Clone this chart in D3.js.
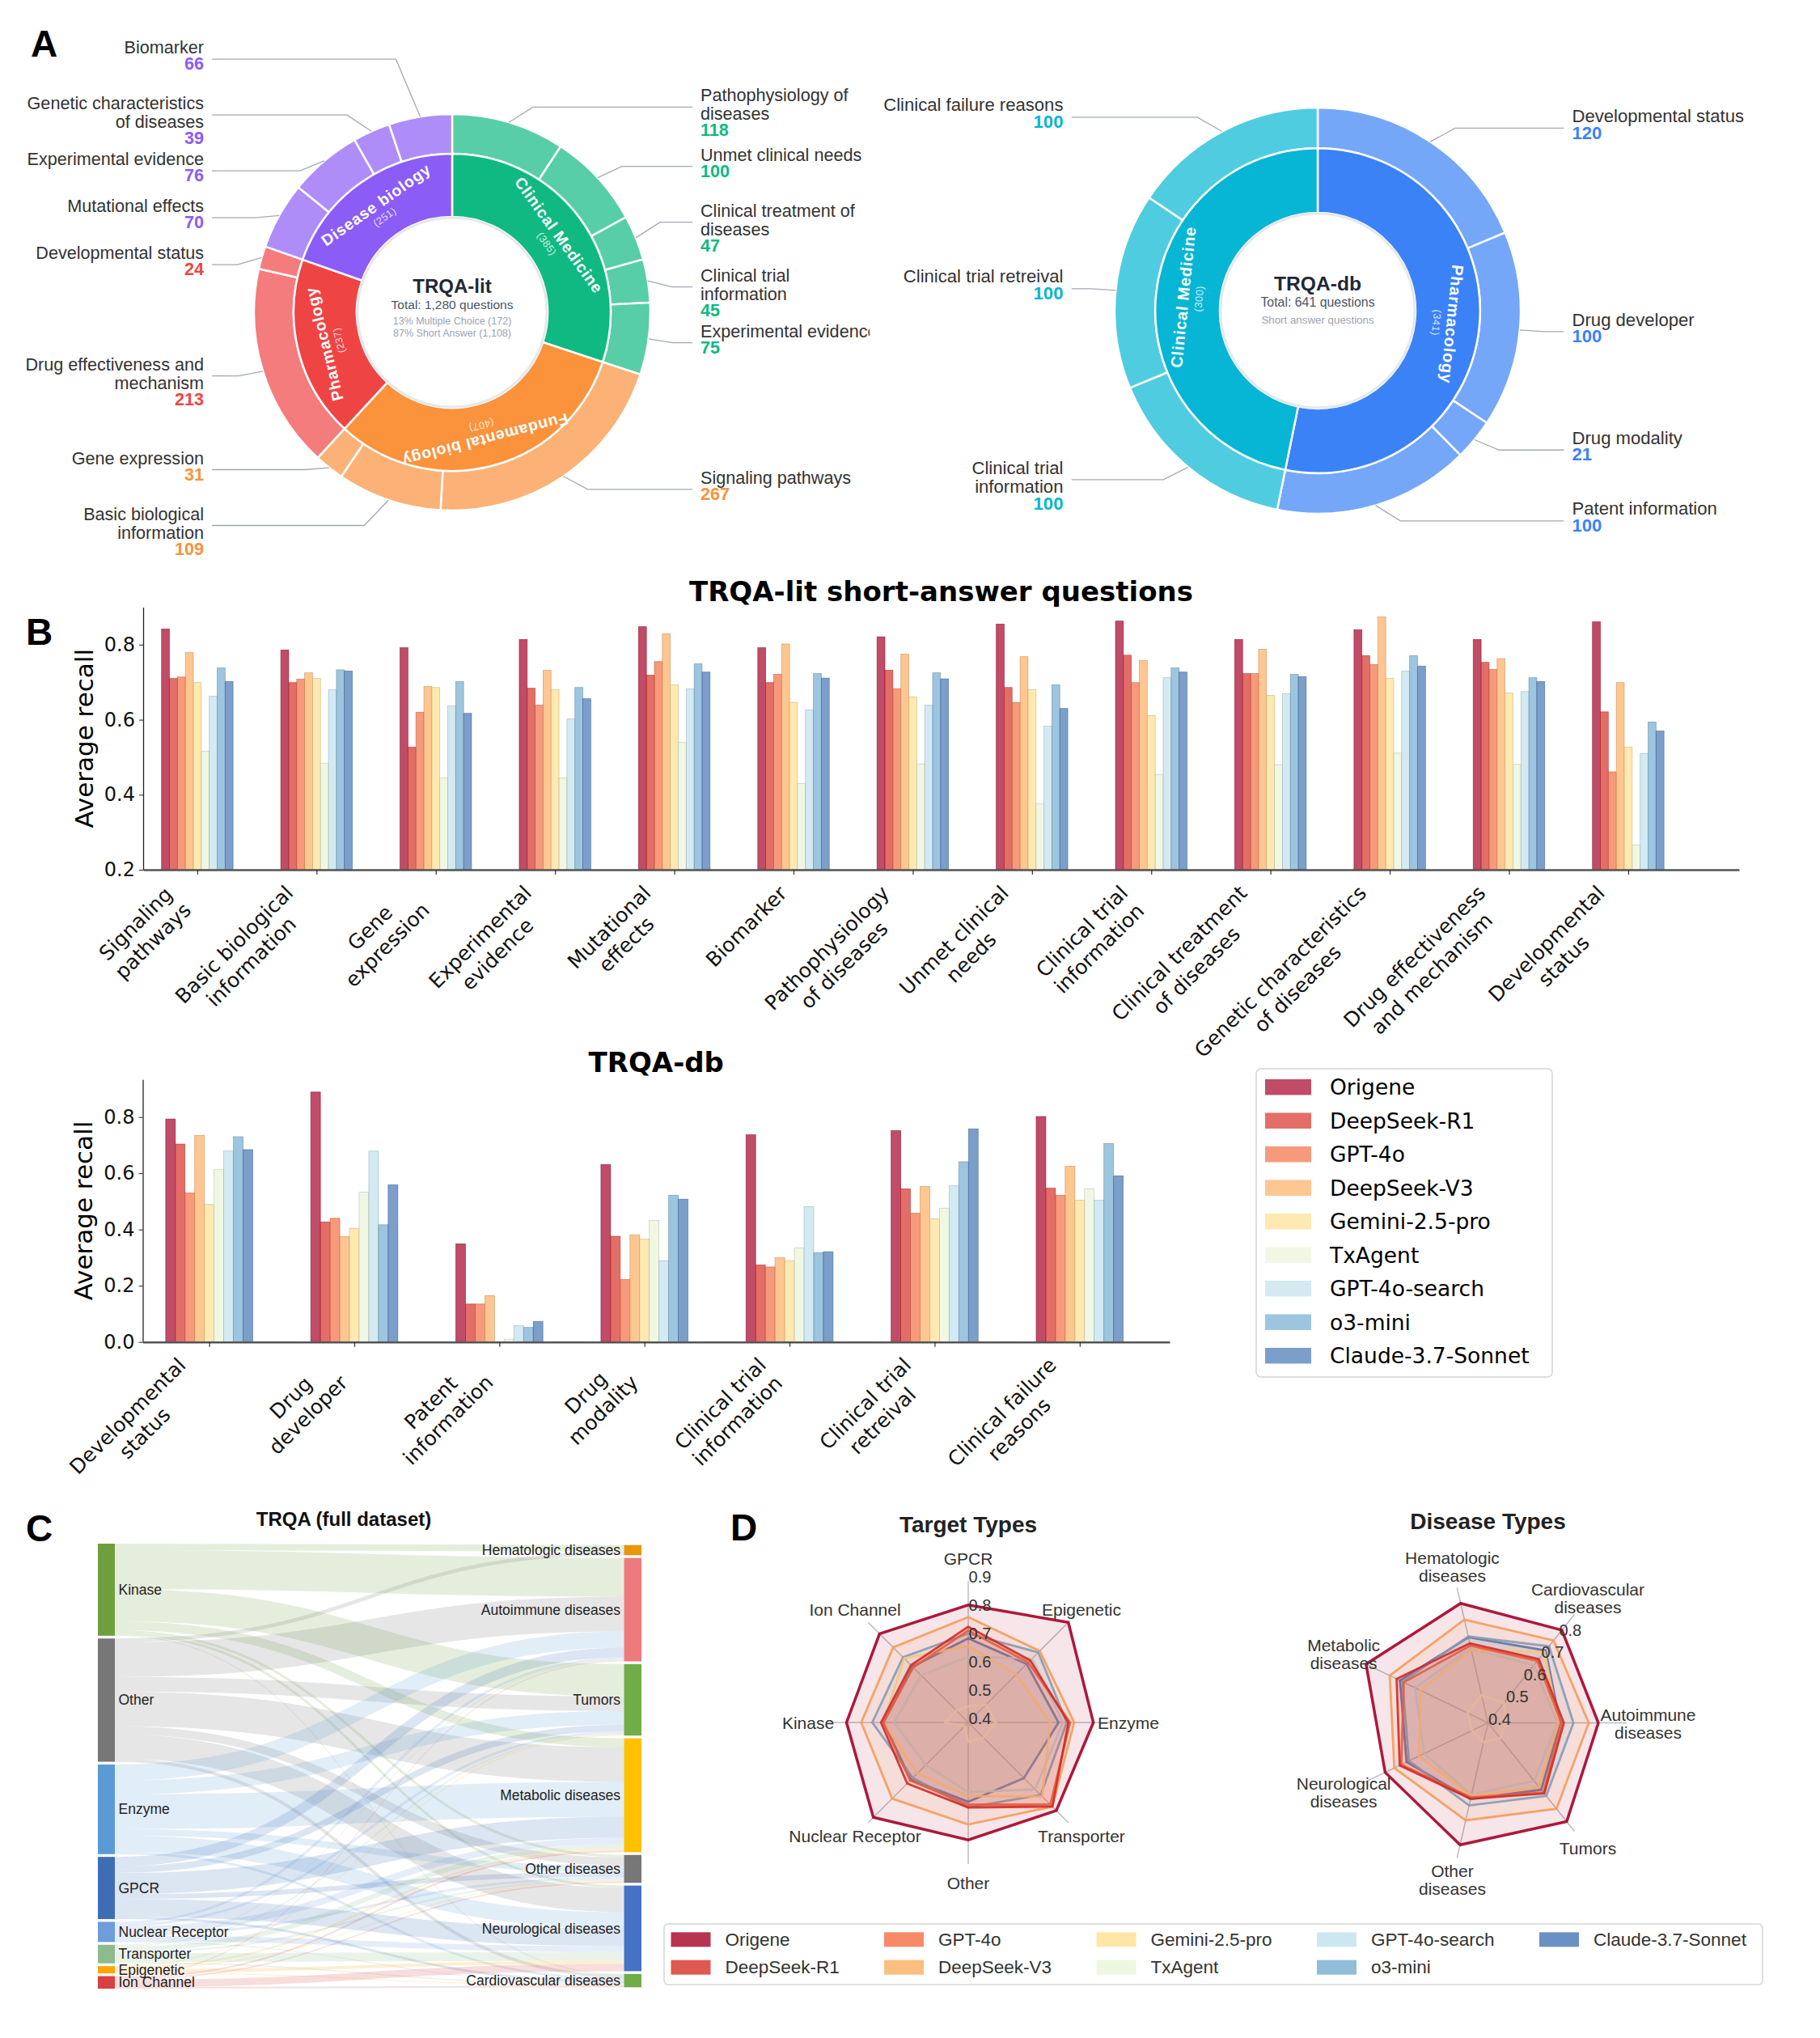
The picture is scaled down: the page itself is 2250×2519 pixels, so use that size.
<!DOCTYPE html>
<html><head><meta charset="utf-8">
<script src="https://cdn.jsdelivr.net/npm/d3@7"></script>
<style>body{margin:0;background:#fff} svg{display:block}</style>
</head><body>
<svg id="fig" width="2250" height="2519"></svg>
<script>
// ================= DATA =================
const models = ['Origene','DeepSeek-R1','GPT-4o','DeepSeek-V3','Gemini-2.5-pro','TxAgent','GPT-4o-search','o3-mini','Claude-3.7-Sonnet'];
const modelColors = ['#a50026','#d73027','#f46d43','#fdae61','#fee090','#eaf5d8','#c0e1ec','#74add1','#4575b4'];

// Panel A – TRQA-lit
const litGroupNames = ['Clinical Medicine','Fundamental biology','Pharmacology','Disease biology'];
const litGroupCounts = [385,407,237,251];
const litGroupColors = ['#10b981','#fb923c','#ef4444','#8b5cf6'];
const litSubNames = ['Pathophysiology of\ndiseases','Unmet clinical needs','Clinical treatment of\ndiseases','Clinical trial\ninformation','Experimental evidence','Signaling pathways','Basic biological\ninformation','Gene expression','Drug effectiveness and\nmechanism','Developmental status','Mutational effects','Experimental evidence','Genetic characteristics\nof diseases','Biomarker'];
const litSubCounts = [118,100,47,45,75,267,109,31,213,24,70,76,39,66];
const litSubGroup = [0,0,0,0,0,1,1,1,2,2,3,3,3,3];
const litCenterLines = ['Total: 1,280 questions','13% Multiple Choice (172)','87% Short Answer (1,108)'];

// Panel A – TRQA-db
const dbGroupNames = ['Pharmacology','Clinical Medicine'];
const dbGroupCounts = [341,300];
const dbGroupColors = ['#3b82f6','#06b6d4'];
const dbSubNames = ['Developmental status','Drug developer','Drug modality','Patent information','Clinical trial\ninformation','Clinical trial retreival','Clinical failure reasons'];
const dbSubCounts = [120,100,21,100,100,100,100];
const dbSubGroup = [0,0,0,0,1,1,1];
const dbCenterLines = ['Total: 641 questions','Short answer questions'];

// Panel B – TRQA-lit short-answer recall
const litCategories = ['Signaling\npathways','Basic biological\ninformation','Gene\nexpression','Experimental\nevidence','Mutational\neffects','Biomarker','Pathophysiology\nof diseases','Unmet clinical\nneeds','Clinical trial\ninformation','Clinical treatment\nof diseases','Genetic characteristics\nof diseases','Drug effectiveness\nand mechanism','Developmental\nstatus'];
const litOrigene  = [0.842,0.786,0.792,0.814,0.848,0.792,0.821,0.855,0.863,0.814,0.840,0.814,0.861];
const litR1       = [0.710,0.699,0.527,0.684,0.719,0.699,0.732,0.686,0.772,0.723,0.771,0.753,0.621];
const litGPT4o    = [0.714,0.708,0.620,0.639,0.755,0.721,0.683,0.646,0.699,0.723,0.747,0.734,0.461];
const litV3       = [0.779,0.725,0.689,0.732,0.829,0.802,0.775,0.768,0.758,0.788,0.874,0.763,0.699];
const litGemini   = [0.699,0.710,0.686,0.680,0.693,0.646,0.661,0.680,0.611,0.665,0.710,0.671,0.527];
const litTxAgent  = [0.516,0.484,0.445,0.445,0.540,0.430,0.482,0.376,0.454,0.480,0.511,0.481,0.266];
const litSearch   = [0.663,0.680,0.637,0.602,0.682,0.626,0.639,0.583,0.712,0.669,0.730,0.675,0.510];
const litO3       = [0.738,0.733,0.702,0.686,0.749,0.723,0.725,0.693,0.738,0.721,0.771,0.712,0.594];
const litClaude   = [0.702,0.730,0.617,0.656,0.727,0.711,0.709,0.630,0.727,0.715,0.743,0.702,0.570];

// Panel B – TRQA-db recall
const dbCategories = ['Developmental\nstatus','Drug\ndeveloper','Patent\ninformation','Drug\nmodality','Clinical trial\ninformation','Clinical trial\nretreival','Clinical failure\nreasons'];
const dbOrigene = [0.793,0.889,0.349,0.631,0.737,0.752,0.802];
const dbR1      = [0.704,0.427,0.135,0.376,0.274,0.545,0.547];
const dbGPT4o   = [0.530,0.440,0.135,0.222,0.267,0.458,0.522];
const dbV3      = [0.735,0.375,0.165,0.381,0.300,0.553,0.625];
const dbGemini  = [0.489,0.404,0.000,0.366,0.289,0.438,0.504];
const dbTxAgent = [0.614,0.533,0.010,0.432,0.335,0.476,0.545];
const dbSearch  = [0.679,0.679,0.058,0.289,0.481,0.556,0.504];
const dbO3      = [0.730,0.417,0.052,0.522,0.318,0.641,0.706];
const dbClaude  = [0.684,0.559,0.073,0.508,0.321,0.758,0.591];

// Panel C – Sankey
const sankeySources = ['Kinase','Other','Enzyme','GPCR','Nuclear Receptor','Transporter','Epigenetic','Ion Channel'];
const sankeySourceColors = ['#6f9f3c','#777777','#5b9bd5','#3f6db5','#6e9ddb','#8dbb8d','#ffa500','#d94040'];
const sankeyTargets = ['Hematologic diseases','Autoimmune diseases','Tumors','Metabolic diseases','Other diseases','Neurological diseases','Cardiovascular diseases'];
const sankeyTargetColors = ['#e8960c','#ee7b7b','#70ad47','#ffc000','#777777','#4472c4','#70ad47'];
const flowKinase      = [8,48,40,11,3,3,1];
const flowOther       = [4.6,43,18,43,10,30,4];
const flowEnzyme      = [0,20,17,43,8,20,3];
const flowGPCR        = [0,12,8,26,6,22,3];
const flowNuclear     = [0,3,3,8,3,7,1];
const flowTransporter = [0,1,1.5,6,2,11,1.5];
const flowEpigenetic  = [0,0,1,2,1,4,1];
const flowIon         = [0,1,0,2,1.5,9,2];

// Panel D – radar
const targetAxes = ['GPCR','Epigenetic','Enzyme','Transporter','Other','Nuclear Receptor','Kinase','Ion Channel'];
const tgOrigene = [0.815,0.900,0.842,0.840,0.815,0.874,0.830,0.843];
const tgR1      = [0.738,0.710,0.754,0.820,0.700,0.705,0.708,0.686];
const tgGPT4o   = [0.725,0.700,0.760,0.810,0.690,0.690,0.700,0.675];
const tgV3      = [0.772,0.757,0.774,0.820,0.760,0.780,0.778,0.775];
const tgGemini  = [0.670,0.640,0.690,0.770,0.660,0.655,0.700,0.720];
const tgTxAgent = [0.457,0.489,0.498,0.476,0.468,0.420,0.481,0.460];
const tgSearch  = [0.632,0.720,0.734,0.734,0.646,0.612,0.662,0.636];
const tgO3      = [0.714,0.750,0.748,0.762,0.700,0.677,0.739,0.726];
const tgClaude  = [0.697,0.692,0.719,0.678,0.680,0.686,0.699,0.679];
const targetTicks = [0.4,0.5,0.6,0.7,0.8,0.9];

const diseaseAxes = ['Hematologic\ndiseases','Cardiovascular\ndiseases','Autoimmune\ndiseases','Tumors','Other\ndiseases','Neurological\ndiseases','Metabolic\ndiseases'];
const dsOrigene = [0.833,0.819,0.790,0.846,0.842,0.803,0.878];
const dsR1      = [0.688,0.688,0.668,0.719,0.675,0.746,0.758];
const dsGPT4o   = [0.680,0.680,0.660,0.715,0.670,0.740,0.730];
const dsV3      = [0.774,0.772,0.756,0.788,0.753,0.767,0.785];
const dsGemini  = [0.663,0.720,0.650,0.690,0.665,0.670,0.665];
const dsTxAgent = [0.500,0.490,0.463,0.470,0.470,0.463,0.480];
const dsSearch  = [0.670,0.660,0.645,0.662,0.660,0.650,0.686];
const dsO3      = [0.713,0.746,0.702,0.730,0.699,0.710,0.735];
const dsClaude  = [0.710,0.727,0.655,0.702,0.676,0.719,0.745];
const diseaseTicks = [0.4,0.5,0.6,0.7,0.8];

// ================= DRAWING =================
const svg = d3.select('#fig');
const SANS = "'Liberation Sans', Arial, sans-serif";
const DJ = "'DejaVu Sans', sans-serif";

// panel letters
[['A',38,70],['B',32,797],['C',32,1905],['D',903,1904]].forEach(([t,x,y])=>{
  svg.append('text').attr('x',x).attr('y',y).attr('font-family',SANS).attr('font-weight','bold')
    .attr('font-size',46).attr('fill','#000').text(t);
});

function relax(items, gapFn){
  items.sort((a,b)=>a.y-b.y);
  for(let it=0; it<800; it++){
    let moved=false;
    for(let i=0;i<items.length-1;i++){
      const a=items[i], b=items[i+1], need=gapFn(a,b), d=b.y-a.y;
      if(d<need-0.01){ const s=(need-d)/2; a.y-=s; b.y+=s; moved=true; }
    }
    if(!moved) break;
  }
}

function drawDonut(o){
  const g = svg.append('g');
  if(o.clipW){
    const id='clip'+o.id;
    svg.append('clipPath').attr('id',id).append('rect').attr('x',0).attr('y',0).attr('width',o.clipW).attr('height',760);
    g.attr('clip-path',`url(#${id})`);
  }
  const R=o.R, ri=R*0.482, rm=R*0.8, s=o.s;
  const total=d3.sum(o.groupCounts);
  const ang=d3.scaleLinear().domain([0,total]).range([0,2*Math.PI]);
  const cum=arr=>{let a=0; return arr.map(c=>{const r={s:a,e:a+c,c}; a+=c; return r;});};
  const gs=cum(o.groupCounts), ss=cum(o.subCounts);
  const arcIn=d3.arc().innerRadius(ri).outerRadius(rm);
  const arcOut=d3.arc().innerRadius(rm).outerRadius(R);
  const pg=g.append('g').attr('transform',`translate(${o.cx},${o.cy})`);
  pg.selectAll('path.o').data(ss).join('path').attr('class','o')
    .attr('d',d=>arcOut({startAngle:ang(d.s),endAngle:ang(d.e)}))
    .attr('fill',(d,i)=>o.groupColors[o.subGroup[i]]).attr('fill-opacity',0.7)
    .attr('stroke','#fff').attr('stroke-width',2.5);
  pg.selectAll('path.i').data(gs).join('path').attr('class','i')
    .attr('d',d=>arcIn({startAngle:ang(d.s),endAngle:ang(d.e)}))
    .attr('fill',(d,i)=>o.groupColors[i]).attr('stroke','#fff').attr('stroke-width',2.5);
  pg.append('circle').attr('r',ri-1).attr('fill','#fff').attr('stroke','#e6e8eb').attr('stroke-width',3);
  // inner labels
  gs.forEach((d,i)=>{
    const a=ang((d.s+d.e)/2), rl=(ri+rm)/2, deg=a*180/Math.PI;
    const t=pg.append('g').attr('transform',`translate(${rl*Math.sin(a)},${-rl*Math.cos(a)}) rotate(${deg})`);
    t.append('text').attr('y',-6*s).attr('text-anchor','middle').attr('dominant-baseline','central')
      .attr('font-family',SANS).attr('font-weight','bold').attr('font-size',19.5*s).attr('letter-spacing',0.8)
      .attr('fill','#fff').text(o.groupNames[i]);
    t.append('text').attr('y',13*s).attr('text-anchor','middle').attr('dominant-baseline','central')
      .attr('font-family',SANS).attr('font-size',12.5*s).attr('letter-spacing',0.5)
      .attr('fill','#fff').attr('fill-opacity',0.8).text(`(${o.groupCounts[i]})`);
  });
  // center text
  pg.append('text').attr('y',-33*s).attr('text-anchor','middle').attr('dominant-baseline','central')
    .attr('font-family',SANS).attr('font-weight','bold').attr('font-size',24*s).attr('fill','#1f2937').text(o.title);
  o.centerLines.forEach((ln,k)=>{
    pg.append('text').attr('y',(k===0?-10:(k===1?11:26))*s).attr('text-anchor','middle').attr('dominant-baseline','central')
      .attr('font-family',SANS).attr('font-size',k===0?15.5*s:o.smallFs*s).attr('fill',k===0?'#4b5563':'#9ca3af').text(ln);
  });
  // outer labels
  const items=ss.map((d,i)=>{
    const a=ang((d.s+d.e)/2), side=Math.sin(a)>=0?1:-1;
    return {i,a,side,ax:R*Math.sin(a),ay:-R*Math.cos(a),y:-1.08*R*Math.cos(a),lines:o.subNames[i].split('\n')};
  });
  [1,-1].forEach(sd=>relax(items.filter(d=>d.side===sd),(a,b)=>((a.lines.length+1)+(b.lines.length+1))*11*s+14*s));
  items.forEach(d=>{
    const lx=d.side*(R+62*s), kx=d.ax+d.side*30*s;
    pg.append('polyline').attr('points',`${d.ax},${d.ay} ${kx},${d.y} ${lx-d.side*10*s},${d.y}`)
      .attr('fill','none').attr('stroke','#a3a9b2').attr('stroke-width',1.3);
    const t=pg.append('text').attr('text-anchor',d.side>0?'start':'end').attr('dominant-baseline','central')
      .attr('font-family',SANS).attr('font-size',o.fs);
    d.lines.forEach((ln,k)=>t.append('tspan').attr('x',lx).attr('y',d.y-15*s+k*23*s).attr('fill','#333').text(ln));
    t.append('tspan').attr('x',lx).attr('y',d.y-15*s+(d.lines.length-1)*23*s+20*s)
      .attr('font-weight','bold').attr('fill',o.groupColors[o.subGroup[d.i]]).text(o.subCounts[d.i]);
  });
}

drawDonut({id:'lit',cx:559,cy:386,R:245,s:1,fs:21.6,smallFs:12.5,clipW:1075,title:'TRQA-lit',
  groupNames:litGroupNames,groupCounts:litGroupCounts,groupColors:litGroupColors,
  subNames:litSubNames,subCounts:litSubCounts,subGroup:litSubGroup,centerLines:litCenterLines});
drawDonut({id:'db',cx:1629,cy:384,R:251,s:1.025,fs:22.1,smallFs:13,title:'TRQA-db',
  groupNames:dbGroupNames,groupCounts:dbGroupCounts,groupColors:dbGroupColors,
  subNames:dbSubNames,subCounts:dbSubCounts,subGroup:dbSubGroup,centerLines:dbCenterLines});

// ---------- Panel B ----------
function drawBars(o){
  const g=svg.append('g');
  const x=d3.scaleLinear().domain(o.xdom).range([o.x0,o.x1]);
  const y=d3.scaleLinear().domain(o.ydom).range([o.y0,o.y1]);
  const n=models.length, w=0.6/n;
  o.scores.forEach((vals,j)=>{
    const col=modelColors[j];
    g.append('g').selectAll('rect').data(vals.map((v,i)=>({v,i})).filter(d=>d.v>o.ydom[0])).join('rect')
      .attr('x',d=>x(d.i-0.3+j*w)).attr('width',x(w)-x(0))
      .attr('y',d=>y(d.v)).attr('height',d=>y(o.ydom[0])-y(d.v))
      .attr('fill',col).attr('fill-opacity',0.7)
      .attr('stroke',d3.color(col).darker(0.8)).attr('stroke-opacity',0.6).attr('stroke-width',0.8);
  });
  const ya=g.append('g').attr('transform',`translate(${o.x0},0)`)
    .call(d3.axisLeft(y).tickValues(o.yticks).tickFormat(d3.format('.1f')).tickSize(5).tickSizeOuter(0).tickPadding(5));
  ya.select('.domain').attr('stroke','#222').attr('stroke-width',1.3);
  ya.selectAll('.tick line').attr('stroke','#222');
  ya.selectAll('text').attr('font-family',DJ).attr('font-size',24).attr('fill','#111');
  const xa=g.append('g').attr('transform',`translate(0,${o.y0})`)
    .call(d3.axisBottom(x).tickValues(d3.range(o.cats.length)).tickFormat('').tickSize(6).tickSizeOuter(0));
  xa.select('.domain').attr('stroke','#555').attr('stroke-width',2.5);
  xa.selectAll('.tick line').attr('stroke','#333').attr('stroke-width',1.2);
  o.cats.forEach((c,i)=>{
    const outer=g.append('g');
    const t=outer.append('text').attr('transform','rotate(-45)').attr('text-anchor','middle')
      .attr('font-family',DJ).attr('font-size',25).attr('fill','#111');
    c.split('\n').forEach((ln,k)=>t.append('tspan').attr('x',0).attr('y',k*30).text(ln));
    const bb=outer.node().getBBox();
    outer.attr('transform',`translate(${x(i)-2-(bb.x+bb.width)},${o.y0+14-bb.y})`);
  });
  g.append('text').attr('x',(o.x0+o.x1)/2).attr('y',o.titleY).attr('text-anchor','middle')
    .attr('font-family',DJ).attr('font-weight','bold').attr('font-size',34).attr('fill','#000').text(o.title);
  g.append('text').attr('transform',`translate(${o.ylabelX},${(o.y0+o.y1)/2}) rotate(-90)`)
    .attr('text-anchor','middle').attr('dominant-baseline','central')
    .attr('font-family',DJ).attr('font-size',31).attr('fill','#000').text('Average recall');
}

drawBars({cats:litCategories,scores:[litOrigene,litR1,litGPT4o,litV3,litGemini,litTxAgent,litSearch,litO3,litClaude],
  x0:177,x1:2150,xdom:[-0.454,12.93],y0:1075,y1:750.5,ydom:[0.2,0.9],yticks:[0.2,0.4,0.6,0.8],
  title:'TRQA-lit short-answer questions',titleY:743,ylabelX:104});
drawBars({cats:dbCategories,scores:[dbOrigene,dbR1,dbGPT4o,dbV3,dbGemini,dbTxAgent,dbSearch,dbO3,dbClaude],
  x0:176.5,x1:1446,xdom:[-0.458,6.62],y0:1658.7,y1:1334.3,ydom:[0,0.9335],yticks:[0,0.2,0.4,0.6,0.8],
  title:'TRQA-db',titleY:1325,ylabelX:103});

// legend B
(function(){
  const g=svg.append('g');
  g.append('rect').attr('x',1553).attr('y',1321).attr('width',366).attr('height',381).attr('rx',6)
    .attr('fill','#fff').attr('stroke','#d4d4d4').attr('stroke-width',1.5);
  models.forEach((m,j)=>{
    const cy=1343.7+j*41.5;
    g.append('rect').attr('x',1564).attr('y',cy-9.75).attr('width',57).attr('height',19.5)
      .attr('fill',modelColors[j]).attr('fill-opacity',0.7);
    g.append('text').attr('x',1644).attr('y',cy).attr('dominant-baseline','central')
      .attr('font-family',DJ).attr('font-size',26.5).attr('fill','#000').text(m);
  });
})();

// ---------- Panel C: Sankey ----------
(function(){
  const flows=[flowKinase,flowOther,flowEnzyme,flowGPCR,flowNuclear,flowTransporter,flowEpigenetic,flowIon];
  const g=svg.append('g');
  const y0=1908,y1=2458,pad=3.4,xs0=121,xs1=142,xt0=771.5,xt1=793;
  const srcTot=flows.map(r=>d3.sum(r));
  const tgtTot=sankeyTargets.map((t,j)=>d3.sum(flows,r=>r[j]));
  const H=y1-y0, maxN=Math.max(sankeySources.length,sankeyTargets.length);
  const k=d3.scaleLinear().domain([0,d3.sum(srcTot)]).range([0,H-(maxN-1)*pad]);
  const stack=tots=>{const h=k(d3.sum(tots))+(tots.length-1)*pad; let y=y0+(H-h)/2;
    return tots.map(t=>{const nd={y0:y,y1:y+k(t)}; y=nd.y1+pad; return nd;});};
  const sN=stack(srcTot), tN=stack(tgtTot);
  const sOff=sN.map(d=>d.y0), tOff=tN.map(d=>d.y0);
  const links=[];
  flows.forEach((row,i)=>row.forEach((v,j)=>{ if(v>0){ const w=k(v); links.push({i,j,w,ys:sOff[i]+w/2}); sOff[i]+=w; }}));
  sankeyTargets.forEach((t,j)=>{ links.filter(l=>l.j===j).sort((a,b)=>a.i-b.i).forEach(l=>{ l.yt=tOff[j]+l.w/2; tOff[j]+=l.w; }); });
  const lk=d3.linkHorizontal();
  g.append('g').selectAll('path').data(links).join('path')
    .attr('d',l=>lk({source:[xs1,l.ys],target:[xt0,l.yt]}))
    .attr('fill','none').attr('stroke',l=>sankeySourceColors[l.i]).attr('stroke-opacity',0.18)
    .attr('stroke-width',l=>Math.max(0.8,l.w));
  sN.forEach((d,i)=>{
    g.append('rect').attr('x',xs0).attr('y',d.y0).attr('width',xs1-xs0).attr('height',d.y1-d.y0).attr('fill',sankeySourceColors[i]);
    g.append('text').attr('x',xs1+4.5).attr('y',(d.y0+d.y1)/2).attr('dominant-baseline','central')
      .attr('font-family',SANS).attr('font-size',17.5).attr('fill','#222').text(sankeySources[i]);
  });
  tN.forEach((d,i)=>{
    g.append('rect').attr('x',xt0).attr('y',d.y0).attr('width',xt1-xt0).attr('height',d.y1-d.y0).attr('fill',sankeyTargetColors[i]);
    g.append('text').attr('x',xt0-4.5).attr('y',(d.y0+d.y1)/2).attr('dominant-baseline','central').attr('text-anchor','end')
      .attr('font-family',SANS).attr('font-size',17.5).attr('fill','#222').text(sankeyTargets[i]);
  });
  g.append('text').attr('x',425).attr('y',1877).attr('text-anchor','middle').attr('dominant-baseline','central')
    .attr('font-family',SANS).attr('font-weight','bold').attr('font-size',24).attr('fill','#111').text('TRQA (full dataset)');
})();

// ---------- Panel D: radars ----------
function drawRadar(o){
  const g=svg.append('g').attr('transform',`translate(${o.cx},${o.cy})`);
  const n=o.axes.length;
  const r=d3.scaleLinear().domain([0.4,o.max]).range([0,(o.max-0.4)*350]).clamp(true);
  const angle=i=>(o.start+i*360/n)*Math.PI/180;
  o.axes.forEach((a,i)=>{
    const t=angle(i);
    g.append('line').attr('x1',0).attr('y1',0).attr('x2',r(o.max)*Math.sin(t)).attr('y2',-r(o.max)*Math.cos(t))
      .attr('stroke','#bcbcbc').attr('stroke-width',1.5);
  });
  const line=d3.lineRadial().angle((d,i)=>angle(i)).radius(d=>r(d)).curve(d3.curveLinearClosed);
  for(let j=o.series.length-1;j>=0;j--){
    g.append('path').attr('d',line(o.series[j])).attr('fill',modelColors[j]).attr('fill-opacity',0.1)
      .attr('stroke',modelColors[j]).attr('stroke-opacity',0.9).attr('stroke-width',j===0?3.5:2.8)
      .attr('stroke-linejoin','miter');
  }
  const ta=o.tickAngle*Math.PI/180;
  o.ticks.forEach(v=>{
    g.append('text').attr('x',r(v)*Math.sin(ta)+14.5).attr('y',-r(v)*Math.cos(ta)-5)
      .attr('text-anchor','middle').attr('dominant-baseline','central')
      .attr('font-family',SANS).attr('font-size',20).attr('fill','#333').text(d3.format('.1f')(v));
  });
  o.axes.forEach((a,i)=>{
    const t=angle(i), lines=a.split('\n'), R=Math.cos(t)>0.99?203:198;
    const x=R*Math.sin(t), y=-R*Math.cos(t);
    const tx=g.append('text').attr('text-anchor','middle').attr('dominant-baseline','central')
      .attr('font-family',SANS).attr('font-size',21).attr('fill','#333');
    lines.forEach((ln,k)=>tx.append('tspan').attr('x',x).attr('y',y+(k-(lines.length-1)/2)*22).text(ln));
  });
  svg.append('text').attr('x',o.cx).attr('y',o.titleY).attr('text-anchor','middle').attr('dominant-baseline','central')
    .attr('font-family',SANS).attr('font-weight','bold').attr('font-size',28).attr('fill','#222').text(o.title);
}
drawRadar({cx:1197,cy:2129,axes:targetAxes,start:0,max:0.9,ticks:targetTicks,tickAngle:0,title:'Target Types',titleY:1884,
  series:[tgOrigene,tgR1,tgGPT4o,tgV3,tgGemini,tgTxAgent,tgSearch,tgO3,tgClaude]});
drawRadar({cx:1839.5,cy:2129.5,axes:diseaseAxes,start:-360/7/4,max:0.89,ticks:diseaseTicks,tickAngle:-360/7/4+360/7,title:'Disease Types',titleY:1880,
  series:[dsOrigene,dsR1,dsGPT4o,dsV3,dsGemini,dsTxAgent,dsSearch,dsO3,dsClaude]});

// legend D
(function(){
  const g=svg.append('g');
  g.append('rect').attr('x',821).attr('y',2378).attr('width',1358).attr('height',75).attr('rx',5)
    .attr('fill','#fff').attr('stroke','#d6d6d6').attr('stroke-width',1.5);
  const colX=[829.5,1093,1355.5,1628,1903];
  const rowY=[2397.3,2431.7];
  models.forEach((m,j)=>{
    const c=Math.floor(j/2), rr=j%2;
    g.append('rect').attr('x',colX[c]).attr('y',rowY[rr]-9).attr('width',49).attr('height',18)
      .attr('fill',modelColors[j]).attr('fill-opacity',0.8);
    g.append('text').attr('x',colX[c]+67).attr('y',rowY[rr]).attr('dominant-baseline','central')
      .attr('font-family',SANS).attr('font-size',22.5).attr('fill','#333').text(m);
  });
})();
</script>
</body></html>
